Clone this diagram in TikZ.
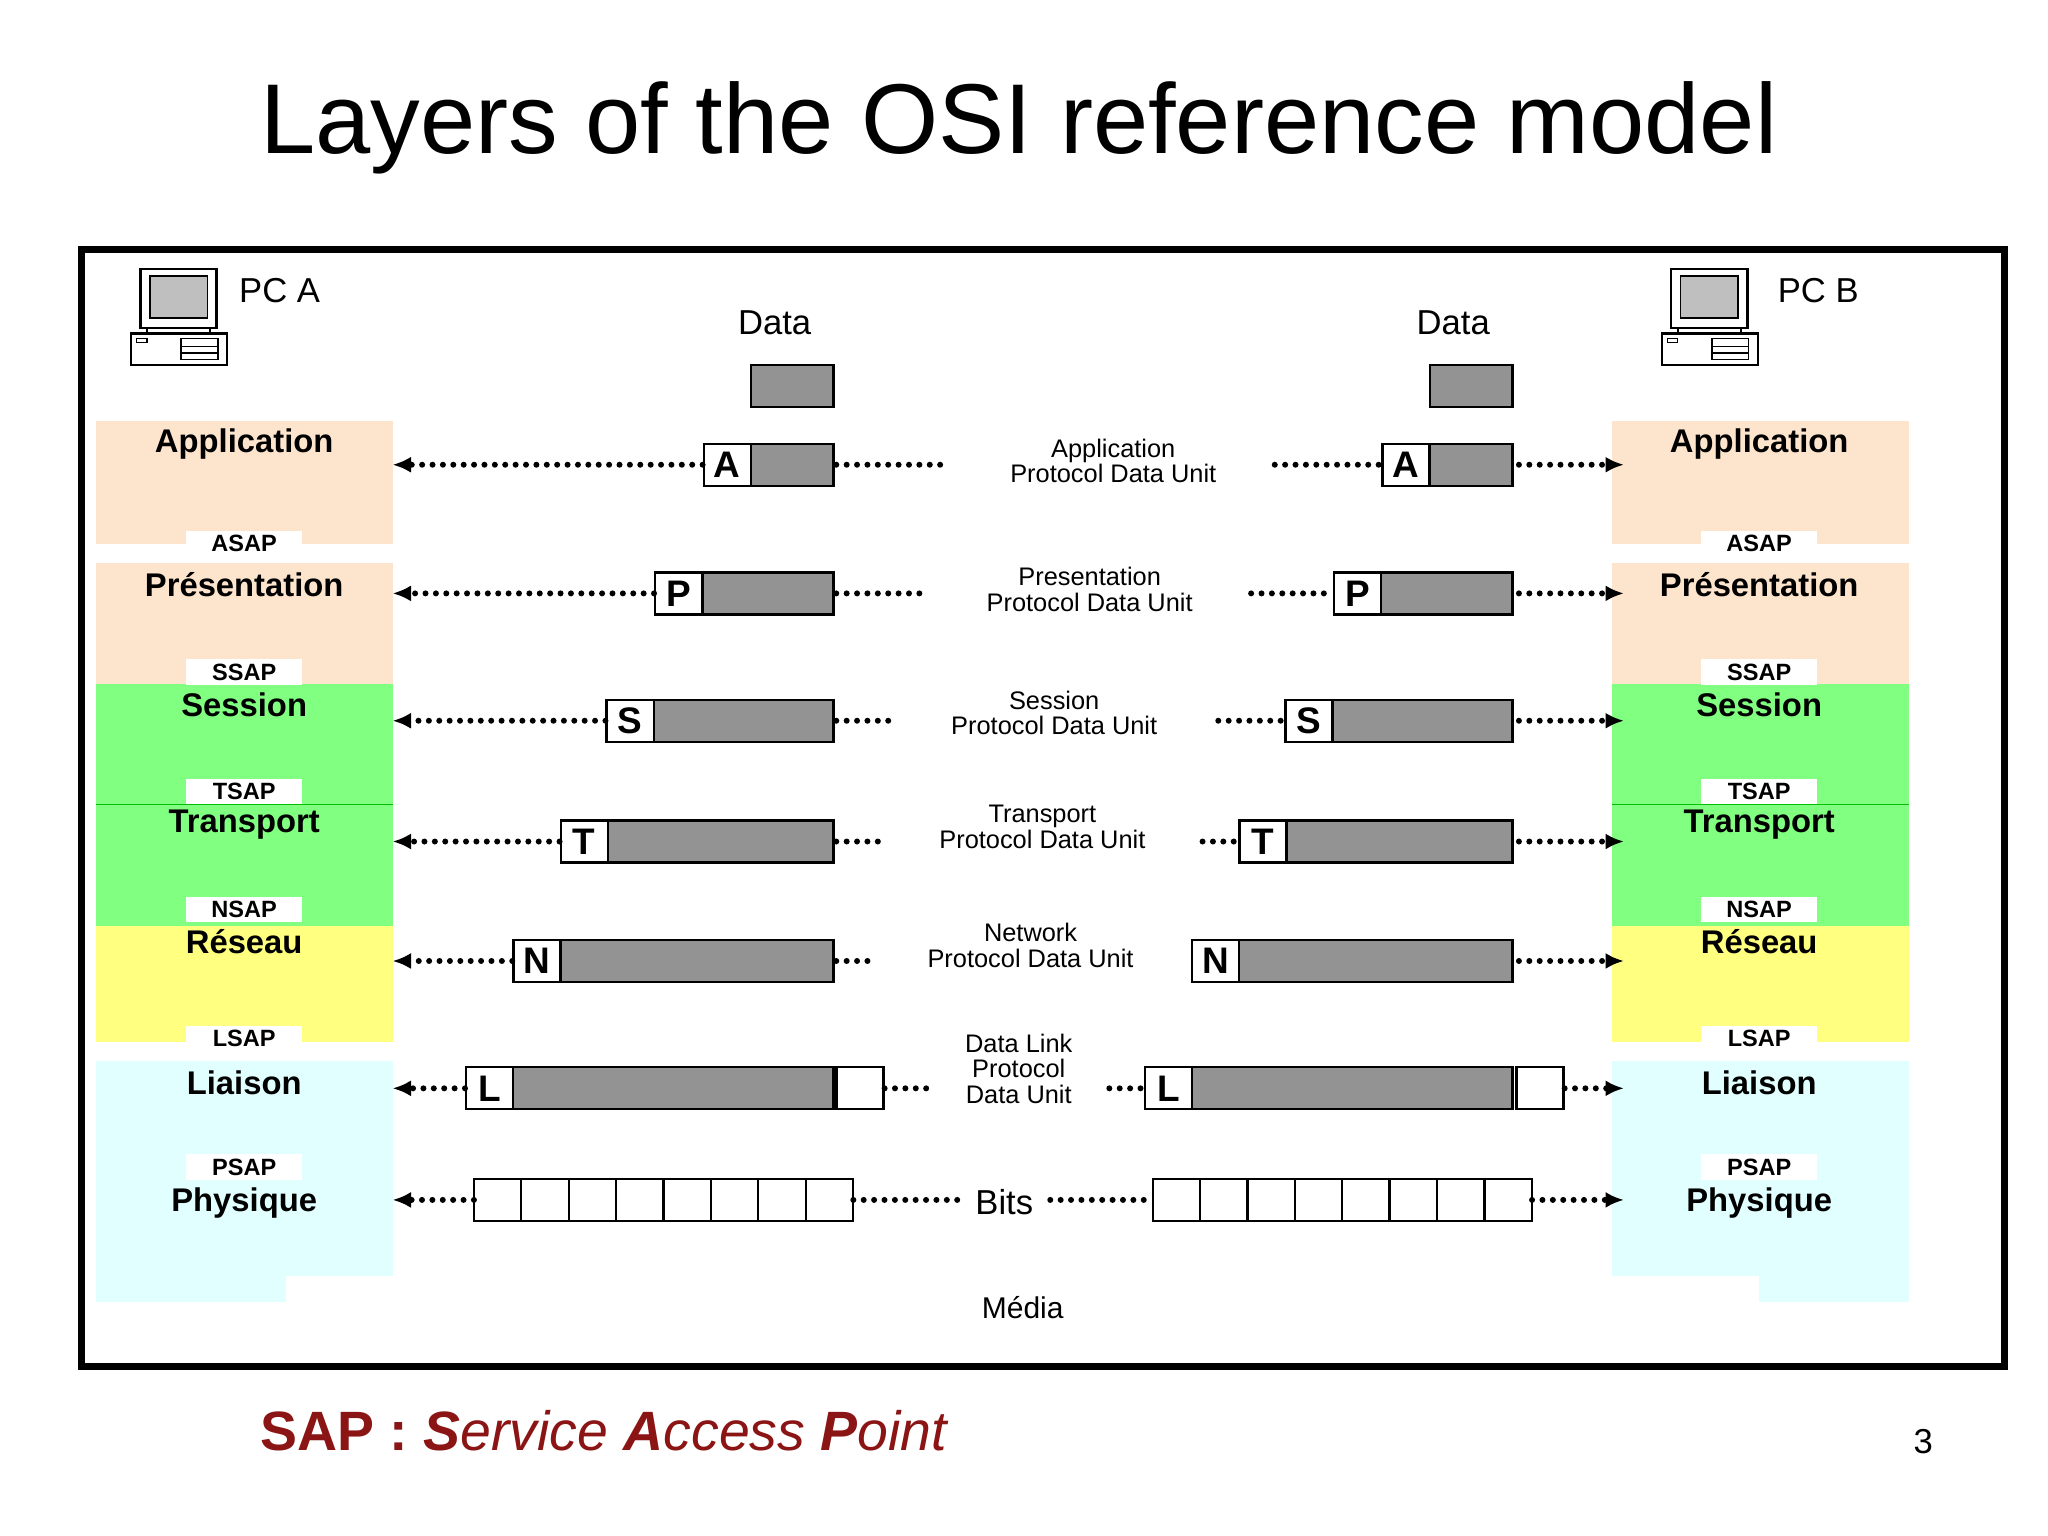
\documentclass[tikz,border=0pt]{standalone}
\usepackage{fontspec}
\setmainfont{Liberation Sans}
\usetikzlibrary{arrows.meta}
\definecolor{peach}{HTML}{FDE4CC}
\definecolor{lgreen}{HTML}{80FF80}
\definecolor{lyellow}{HTML}{FFFF80}
\definecolor{lcyan}{HTML}{E2FFFF}
\definecolor{pdu}{HTML}{939393}
\definecolor{sapred}{HTML}{8B1414}
\newcommand{\fsz}[1]{\fontsize{#1pt}{#1pt}\selectfont}
\tikzset{
 dots/.style={line width=1.3pt,line cap=round,dash pattern=on 0pt off 2.25pt},
 dotarr/.style={dots,-{Latex[length=4pt,width=3.5pt]}},
 hdr/.style={draw,line width=0.5pt,fill=white,inner sep=0pt,font=\bfseries\fsz{8}},
 bar/.style={draw,line width=0.5pt,fill=pdu},
 lay/.style={font=\bfseries\fsz{7.1},anchor=center},
 sap/.style={fill=white,font=\bfseries\fsz{5.1},minimum width=25pt,minimum height=5.5pt,inner sep=0.5pt},
 mid/.style={font=\fsz{5.5},align=center,inner sep=0pt},
}
\begin{document}
\begin{tikzpicture}[x=0.01cm,y=-0.01cm]
\useasboundingbox (0,0) rectangle (1560,1170);
\node (title) at (776,97) {\fsz{21.5}Layers of the OSI reference model};
\draw[line width=1.5pt] (62,190) rectangle (1527,1041);
% columns
\foreach \xa in {73,1228}{
 \fill[peach] (\xa,321) rectangle ++(226,93);
 \fill[peach] (\xa,429) rectangle ++(226,92);
 \fill[lgreen] (\xa,521) rectangle ++(226,184);
 \draw[green!75!black,line width=0.3pt] (\xa,613) -- ++(226,0);
 \fill[lyellow] (\xa,705) rectangle ++(226,89);
 \fill[lcyan] (\xa,808) rectangle ++(226,164);
}
\fill[lcyan] (73,972) rectangle (218,992);
\fill[lcyan] (1340,972) rectangle (1454,992);
\foreach \cx/\s in {186/l,1340/r}{
 \node[lay] (app\s) at (\cx,338) {Application};
 \node[lay] (pre\s) at (\cx,445) {Présentation};
 \node[lay] (ses\s) at (\cx,537) {Session};
 \node[lay] (tra\s) at (\cx,628) {Transport};
 \node[lay] (res\s) at (\cx,717) {Réseau};
 \node[lay] (lia\s) at (\cx,825) {Liaison};
 \node[lay] (phy\s) at (\cx,916) {Physique};
 \node[sap] (asap\s) at (\cx,414) {ASAP};
 \node[sap] (ssap\s) at (\cx,512) {SSAP};
 \node[sap] (tsap\s) at (\cx,603) {TSAP};
 \node[sap] (nsap\s) at (\cx,693) {NSAP};
 \node[sap] (lsap\s) at (\cx,791) {LSAP};
 \node[sap] (psap\s) at (\cx,889) {PSAP};
}
% PC icons
\foreach \px/\s/\tx/\lab in {100/a/213/{PC A},1266/b/1385/{PC B}}{
 \draw[line width=0.5pt,fill=white] (\px+7,205) rectangle ++(58,45);
 \draw[line width=0.4pt,fill=gray!50] (\px+14,210) rectangle ++(44,32);
 \draw[line width=0.5pt,fill=white] (\px+12,250) rectangle ++(48,4);
 \draw[line width=0.5pt,fill=white] (\px,254) rectangle ++(73,24);
 \draw[line width=0.3pt] (\px+38,258) rectangle ++(28,16) (\px+38,264)--++(28,0) (\px+38,269)--++(28,0);
 \draw[line width=0.3pt] (\px+4,258) rectangle ++(8,3);
 \node[font=\fsz{7.5}] (pc\s) at (\tx,221) {\lab};
}
% Data
\foreach \dx/\s/\tx in {0/l/590,517/r/1107}{
 \node[font=\fsz{7.5}] (data\s) at (\tx,246) {Data};
 \draw[bar] (572+\dx,278) rectangle (635+\dx,310);
}
% PDU rows
\foreach \hx/\ltr/\y/\s/\rs in {536/A/354/a/971,499/P/452/p/953,462/S/549/s/928,427/T/641/t/916,391/N/732/n/909,355/L/829/l/845}{
 \foreach \dx/\side in {0/l,517/r}{
  \draw[bar] (\hx+36+\dx,\y-16) rectangle (635+\dx,\y+16);
  \node[hdr,minimum width=10.2pt,minimum height=9.1pt] (h\s\side) at (\hx+18+\dx,\y) {\ltr};
 }
 \coordinate (le\s) at (299,\y);
 \draw[dotarr] (h\s l.west) -- (le\s);
 \coordinate (re\s) at (1237,\y);
 \coordinate (rs\s) at (\rs,\y);
}
\draw[dots] (637,354) -- (722,354); \draw[dots] (rsa) -- (har.west);
\draw[dots] (637,452) -- (707,452); \draw[dots] (rsp) -- (hpr.west);
\draw[dots] (637,549) -- (678,549); \draw[dots] (rss) -- (hsr.west);
\draw[dots] (637,641) -- (672,641); \draw[dots] (rst) -- (htr.west);
\draw[dots] (637,732) -- (662,732);
\foreach \y/\s in {354/a,452/p,549/s,641/t,732/n}{\draw[dotarr] (1157,\y) -- (re\s);}
% trailers
\node[draw,line width=0.5pt,minimum width=10.2pt,minimum height=9.1pt,inner sep=0pt] (tl) at (655,829) {};
\node[draw,line width=0.5pt,minimum width=10.2pt,minimum height=9.1pt,inner sep=0pt] (tr) at (1173,829) {};
\draw[dots] (tl.east) -- (708,829); \draw[dots] (rsl) -- (hlr.west);
\draw[dotarr] (tr.east) -- (rel);
% bits
\foreach \bx/\s in {361/l,878/r}{
 \foreach \i in {0,...,7}{\draw[line width=0.5pt] (\bx+\i*36.1,898) rectangle ++(36.1,32);}
 \coordinate (bw\s) at (\bx,914);
 \coordinate (be\s) at (\bx+289,914);
}
\coordinate (bll) at (299,914); \coordinate (brr) at (1237,914);
\draw[dotarr] (bwl) -- (bll);
\draw[dots] (bel) -- (732,914);
\draw[dots] (800,914) -- (bwr);
\draw[dotarr] (ber) -- (brr);
\node[font=\fsz{7.5}] (bits) at (765,916) {Bits};
% middle labels
\node[mid] (m1) at (848,351) {Application\\Protocol Data Unit};
\node[mid] (m2) at (830,449) {Presentation\\Protocol Data Unit};
\node[mid] (m3) at (803,543) {Session\\Protocol Data Unit};
\node[mid] (m4) at (794,630) {Transport\\Protocol Data Unit};
\node[mid] (m5) at (785,720) {Network\\Protocol Data Unit};
\node[mid] (m6) at (776,814) {Data Link\\Protocol\\Data Unit};
\node[font=\fsz{6.5}] (media) at (779,996) {Média};
\node[anchor=west,text=sapred,font=\fsz{12}] (sapfoot) at (186,1090) {\textbf{SAP : }\textbf{\itshape S}\textit{ervice }\textbf{\itshape A}\textit{ccess }\textbf{\itshape P}\textit{oint}};
\node[font=\fsz{7.5}] (pg) at (1465,1098) {3};
\end{tikzpicture}
\end{document}
